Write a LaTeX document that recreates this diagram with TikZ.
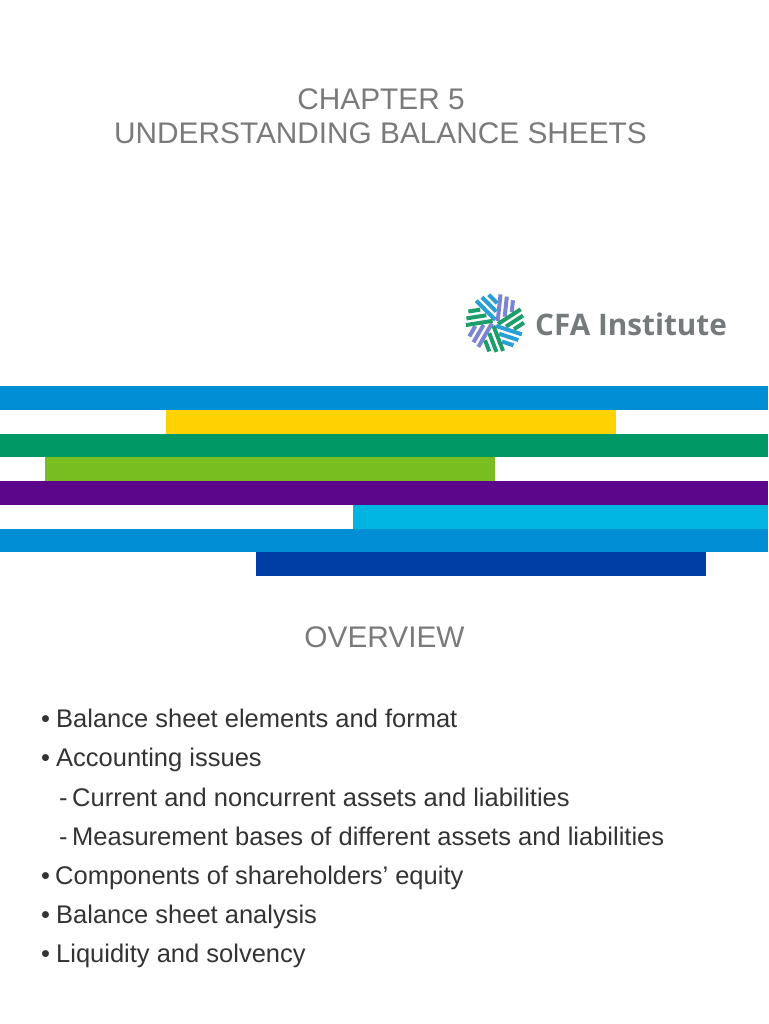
\documentclass[tikz,border=0pt]{standalone}
\usepackage{fontspec}
\usepackage{xcolor}
\usepackage{tikz}
\setmainfont{Liberation Sans}
\newfontfamily\logofont{Open Sans}
\definecolor{titlegray}{HTML}{7A7A7A}
\definecolor{bodygray}{HTML}{333333}
\definecolor{logogray}{HTML}{757A7D}
\definecolor{barblue}{HTML}{008FD5}
\definecolor{baryellow}{HTML}{FFD200}
\definecolor{bargreen}{HTML}{009966}
\definecolor{barlime}{HTML}{78BE20}
\definecolor{barpurple}{HTML}{5C068C}
\definecolor{barcyan}{HTML}{00B5E2}
\definecolor{barnavy}{HTML}{003DA5}
\definecolor{logoblue}{HTML}{2A9FD6}
\definecolor{logoviolet}{HTML}{7C86D0}
\definecolor{logogreen}{HTML}{1E9E6A}
\tikzstyle{heading} = [draw=none, inner sep = 0, text = titlegray, font = \fontsize{29.8}{29.8}\selectfont]
\tikzstyle{item} = [draw=none, inner sep = 0, anchor = base west, text = bodygray, font = \fontsize{25.5}{25.5}\selectfont]
\tikzstyle{stripe} = [line width = 4pt]

\begin{document}
\begin{tikzpicture}[x=1pt, y=-1pt]
\useasboundingbox (0, 0) rectangle (768, 1024);
\fill [barblue] (0, 386) rectangle (768, 409.5);
\fill [baryellow] (166, 409.5) rectangle (616, 433.5);
\fill [bargreen] (0, 433.5) rectangle (768, 457);
\fill [barlime] (45, 457) rectangle (495, 481);
\fill [barpurple] (0, 481) rectangle (768, 504.5);
\fill [barcyan] (353, 504.5) rectangle (768, 528.5);
\fill [barblue] (0, 528.5) rectangle (768, 552);
\fill [barnavy] (256, 552) rectangle (706, 576);
\foreach \ang/\col in {135/logoblue, 84/logoviolet, 33/logogreen, -18/logoblue, -69/logogreen, -120/logoviolet, -171/logogreen} {
  \begin{scope}[shift = {(495, 323)}, rotate = \ang]
    \foreach \off/\from/\to in {2.5/2/29, 9/7.3/27.5, 15.5/12.5/24.5} {
      \draw [stripe, draw = \col] (\from, \off) -- (\to, \off);
    }
  \end{scope}
}
\node [draw=none, inner sep = 0, anchor = base west, text = logogray, font = \logofont\bfseries\fontsize{29.7}{29.7}\selectfont] (logo) at (535, 335) {CFA Institute};
\node [heading] (chapter) at (381, 99.5) {CHAPTER 5};
\node [heading] (title) at (380.5, 133.5) {UNDERSTANDING BALANCE SHEETS};
\node [heading] (overview) at (384.5, 637) {OVERVIEW};
\node [item] (bullet1) at (41, 727) {•};
\node [item] (elements) at (56, 727) {Balance sheet elements and format};
\node [item] (bullet2) at (41, 766) {•};
\node [item] (issues) at (56, 766) {Accounting issues};
\node [item] (dash1) at (59, 806) {-};
\node [item] (current) at (72, 806) {Current and noncurrent assets and liabilities};
\node [item] (dash2) at (59, 845) {-};
\node [item] (bases) at (72, 845) {Measurement bases of different assets and liabilities};
\node [item] (bullet3) at (41, 884) {•};
\node [item] (components) at (55, 884) {Components of shareholders’ equity};
\node [item] (bullet4) at (41, 923) {•};
\node [item] (analysis) at (56, 923) {Balance sheet analysis};
\node [item] (bullet5) at (41, 962) {•};
\node [item] (liquidity) at (56, 962) {Liquidity and solvency};
\end{tikzpicture}
\end{document}
